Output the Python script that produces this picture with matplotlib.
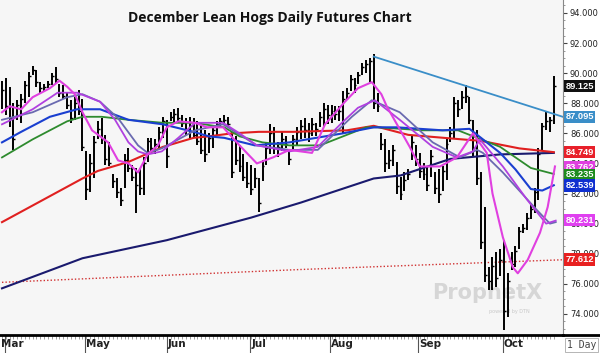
import matplotlib.pyplot as plt
import numpy as np
from matplotlib.lines import Line2D
from matplotlib.ticker import MultipleLocator

# daily OHLC (high / low / close), Dec lean hogs
highs = [89.5, 89.7, 89.1, 88.0, 88.2, 88.6, 89.5, 90.1, 90.5, 90.2,
         89.4, 89.3, 89.5, 90.0, 90.4, 89.3, 89.2, 88.7, 88.2, 88.4,
         88.9, 88.3, 84.8, 84.6, 85.8, 86.8, 87.0, 85.9, 85.4, 83.3,
         83.0, 82.4, 84.6, 85.0, 83.9, 83.7, 83.7, 84.4, 85.7, 85.7,
         85.6, 86.4, 87.1, 86.9, 87.4, 87.6, 87.7, 87.2, 87.0, 87.1,
         87.0, 86.8, 86.7, 86.2, 86.0, 86.4, 86.8, 87.0, 87.2, 87.1,
         86.1, 85.8, 85.2, 84.6, 84.1, 83.9, 83.7, 83.0, 84.2, 85.4,
         86.6, 86.4, 85.4, 86.1, 85.8, 84.8, 85.9, 86.4, 86.9, 87.0,
         86.7, 87.0, 86.7, 87.4, 88.0, 87.9, 87.9, 87.8, 87.8, 88.8,
         89.0, 89.9, 89.7, 90.1, 90.7, 90.9, 91.0, 91.3, 88.7, 86.0,
         85.6, 84.9, 85.2, 84.1, 83.1, 83.4, 83.6, 85.8, 85.2, 84.7,
         84.0, 83.8, 84.9, 83.4, 83.6, 83.8, 85.6, 86.4, 88.4, 88.2,
         88.8, 89.2, 88.4, 86.9, 86.2, 83.4, 81.1, 77.1, 77.8, 78.1,
         78.3, 78.9, 76.7, 78.1, 78.5, 79.8, 80.0, 80.7, 81.4, 82.4,
         85.0, 86.7, 87.4, 87.1, 89.8]
lows = [87.6, 87.2, 86.4, 84.9, 86.9, 86.7, 88.0, 88.4, 89.9, 89.1,
        88.7, 88.8, 89.0, 89.2, 89.3, 88.4, 88.3, 87.6, 86.7, 86.9,
        87.2, 84.8, 81.6, 82.1, 83.0, 85.6, 85.3, 83.9, 83.8, 82.4,
        81.7, 81.2, 82.4, 83.4, 82.8, 80.7, 81.9, 81.9, 84.1, 84.8,
        84.6, 85.0, 85.7, 83.7, 86.8, 86.7, 86.8, 86.4, 85.9, 85.6,
        85.7, 85.2, 84.6, 84.1, 84.7, 85.0, 85.9, 86.4, 86.6, 86.4,
        83.0, 83.9, 83.4, 82.8, 82.4, 81.9, 82.4, 80.8, 82.8, 83.9,
        84.6, 84.6, 84.4, 84.8, 85.0, 83.9, 84.8, 85.2, 85.6, 85.7,
        85.4, 85.8, 85.8, 86.4, 86.4, 86.6, 86.7, 86.9, 86.8, 86.0,
        88.2, 88.8, 88.7, 89.3, 89.9, 90.0, 89.4, 87.6, 87.4, 84.9,
        83.4, 83.6, 83.8, 82.0, 81.6, 82.2, 82.9, 84.2, 83.8, 83.0,
        82.9, 82.2, 83.1, 82.0, 81.4, 82.2, 82.9, 85.4, 85.6, 87.1,
        87.6, 88.0, 86.6, 84.5, 82.6, 78.3, 76.1, 75.6, 75.6, 75.8,
        76.5, 72.9, 73.8, 76.9, 77.1, 78.3, 79.4, 79.6, 80.3, 80.7,
        81.6, 84.9, 86.2, 86.1, 86.6]
closes = [88.9, 87.8, 87.0, 85.6, 87.9, 88.3, 89.2, 89.8, 90.2, 89.4,
          89.0, 89.1, 89.3, 89.8, 89.6, 88.7, 88.5, 87.9, 87.0, 88.0,
          87.5, 85.1, 82.3, 84.0, 85.4, 86.3, 85.6, 84.3, 84.0, 82.8,
          82.1, 81.6, 84.2, 83.7, 83.1, 82.6, 82.4, 84.0, 85.5, 85.0,
          85.3, 86.1, 86.8, 84.5, 87.1, 87.3, 87.0, 86.7, 86.2, 86.5,
          85.9, 85.5, 84.9, 84.6, 85.7, 86.2, 86.6, 86.8, 86.9, 86.6,
          83.4, 84.2, 83.8, 83.1, 82.7, 82.3, 83.0, 81.4, 83.8, 85.0,
          86.0, 85.0, 85.1, 85.6, 85.3, 84.3, 85.6, 86.1, 86.5, 86.2,
          86.0, 86.6, 86.3, 87.1, 87.6, 87.2, 87.5, 87.3, 87.5, 88.3,
          88.7, 89.6, 89.2, 89.9, 90.4, 90.6, 90.8, 88.0, 87.8, 85.3,
          84.0, 84.2, 84.9, 82.5, 82.0, 82.9, 83.3, 85.4, 84.3, 83.5,
          83.3, 82.6, 84.5, 82.4, 82.0, 83.5, 85.3, 86.0, 88.0, 87.6,
          88.4, 88.5, 86.9, 85.0, 83.0, 78.8, 76.6, 76.2, 77.2, 76.4,
          77.6, 74.2, 76.2, 77.3, 78.2, 79.5, 79.7, 80.4, 81.0, 82.1,
          84.6, 86.5, 86.8, 86.9, 89.125]

# moving averages (bar index, value)
red_x = [0, 21, 25, 33, 42, 50, 54, 60, 67, 76, 90, 97, 106, 120, 125, 135, 144]
red_y = [80.1, 83.0, 83.5, 84.1, 85.1, 85.7, 85.8, 86.0, 86.1, 86.1, 86.2, 86.5,
         85.9, 85.6, 85.5, 85.0, 84.75]
navy_x = [0, 21, 43, 65, 78, 97, 104, 117, 130, 144]
navy_y = [75.7, 77.7, 78.9, 80.4, 81.4, 83.0, 83.2, 84.3, 84.6, 84.7]
green_x = [0, 8, 17, 21, 26, 33, 42, 50, 58, 62, 68, 75, 83, 87, 95, 98, 110,
           119, 130, 138, 144]
green_y = [84.4, 85.6, 86.8, 87.1, 87.1, 86.9, 86.7, 86.7, 86.4, 85.8, 85.4,
           85.2, 85.2, 85.6, 86.4, 86.4, 86.2, 86.2, 85.1, 83.7, 83.3]
blue_x = [0, 5, 12.5, 19.6, 25.6, 33, 42, 50, 54, 58, 66, 75, 82, 89, 97, 103,
          115, 122, 130, 134, 138, 141, 144]
blue_y = [85.4, 86.1, 87.1, 87.6, 87.6, 86.9, 86.6, 86.1, 85.8, 85.7, 85.2,
          85.4, 85.7, 86.0, 86.4, 86.4, 86.2, 86.3, 84.7, 83.6, 82.3, 82.2, 82.55]
purple_x = [0, 8, 14.5, 19.6, 25.6, 29.5, 33, 35.5, 38, 41.7, 46, 50.4, 57.7,
            62, 66.5, 75, 82.4, 88.7, 92.9, 97.3, 103.8, 112.4, 118.7, 122.9,
            124.7, 130.7, 137, 142, 144.5]
purple_y = [86.6, 87.6, 88.7, 88.7, 88.1, 86.9, 85.4, 84.8, 84.6, 84.8, 85.7,
            86.7, 86.7, 86.0, 85.2, 84.8, 85.1, 86.7, 87.7, 88.2, 86.9, 85.1,
            84.4, 84.8, 85.6, 83.8, 81.6, 80.0, 80.2]
slate_x = [0, 8, 17, 21, 25.6, 30.3, 35.5, 38, 41.7, 50.4, 57.7, 66.5, 75,
           82.4, 91.3, 96.5, 103.8, 112.4, 119.5, 124, 125.5, 130.7, 139.6,
           143, 144.5]
slate_y = [86.9, 87.4, 88.4, 88.6, 88.1, 87.0, 85.2, 84.7, 85.0, 86.2, 86.6,
           85.2, 84.9, 84.9, 87.1, 88.2, 87.4, 85.4, 84.4, 84.9, 84.7, 83.4,
           80.9, 80.0, 80.1]
mag_x = [0, 2, 5, 8, 12.5, 15, 17, 19, 21, 23.5, 27.7, 30.3, 33, 35.5, 38,
         40.7, 43, 46, 50.4, 53.5, 57.7, 62, 66.5, 70.7, 75, 80.9, 84.3, 89.5,
         92.9, 96.5, 99, 100.4, 106.4, 109, 114.3, 118.7, 122.9, 126.5, 128,
         130.7, 133.3, 134.6, 137.2, 140.4, 142.4, 144.3]
mag_y = [87.4, 87.8, 87.6, 88.4, 89.0, 89.5, 89.1, 88.6, 87.4, 86.2, 85.4,
         84.2, 84.0, 83.4, 84.6, 85.2, 86.4, 86.8, 86.7, 86.4, 86.4, 85.2,
         84.0, 84.4, 84.9, 84.7, 86.6, 88.1, 89.0, 89.4, 88.6, 87.8, 85.1,
         83.8, 83.8, 84.4, 86.0, 84.7, 82.0, 79.1, 77.1, 76.7, 77.6, 79.4,
         81.1, 83.8]
dotted_x = [0, 77.7, 146.4]
dotted_y = [76.1, 76.95, 77.6]
trend_x = [97, 146.4]
trend_y = [91.1, 87.095]

month_labels = ['Mar', 'May', 'Jun', 'Jul', 'Aug', 'Sep', 'Oct']
month_idx = [0.8, 21.7, 43.0, 64.7, 85.6, 108.5, 130.7]

# right-hand value flags
flag_vals = [89.125, 87.095, 84.749, 83.762, 83.235, 82.539, 80.231, 77.612]
flag_cols = ['#111111', '#3a8ec8', '#e8202a', '#e040e0', '#1e8c1e',
             '#1030d0', '#e040f0', '#e82020']

fig = plt.figure(figsize=(6, 3.53), dpi=100)
ax = fig.add_axes([0, 18 / 353, 563 / 600, 335 / 353])
ax.set_facecolor('#f6f6f6')

x = np.arange(len(highs))
ax.vlines(x, lows, highs, color='black', lw=1.4, zorder=3)
ax.hlines(closes, x, x + 0.5, color='black', lw=1.0, zorder=3)

ax.plot(dotted_x, dotted_y, color='#d03030', lw=1.0, ls=(0, (1, 1.5)), zorder=2)
ax.plot(navy_x, navy_y, color='#1a1a6e', lw=1.5, zorder=4)
ax.plot(red_x, red_y, color='#e02020', lw=1.5, zorder=4)
ax.plot(green_x, green_y, color='#2e8b2e', lw=1.3, zorder=4)
ax.plot(blue_x, blue_y, color='#1a3fd0', lw=1.5, zorder=4)
ax.plot(slate_x, slate_y, color='#6a6ab0', lw=1.3, zorder=4)
ax.plot(purple_x, purple_y, color='#b040e0', lw=1.3, zorder=4)
ax.plot(mag_x, mag_y, color='#e040e0', lw=1.5, zorder=4)
ax.plot(trend_x, trend_y, color='#3a8ec8', lw=1.3, zorder=5)

ax.set_xlim(-0.52, 146.4)

# price axis on the right
ax.yaxis.tick_right()
ticks = np.arange(74, 96, 2)
ax.set_yticks(ticks, labels=[f'{v:.3f}' for v in ticks])
ax.yaxis.set_minor_locator(MultipleLocator(0.5))
ax.set_ylim(72.6, 94.86)
ax.tick_params(axis='y', which='major', length=3, pad=2, labelsize=6.0,
               colors='#444444', labelcolor='#222222')
ax.tick_params(axis='y', which='minor', length=1.5, colors='#888888')

# date axis
ax.set_xticks(month_idx, labels=[])
ax.set_xticks(x, minor=True)
ax.tick_params(axis='x', which='major', length=13, width=0.8, color='#555555')
ax.tick_params(axis='x', which='minor', length=3, width=0.5, color='#777777')
for i, (lab, xi) in enumerate(zip(month_labels, month_idx)):
    lx = -0.3 if i == 0 else xi + 0.3
    ax.text(lx, -0.012, lab, transform=ax.get_xaxis_transform(),
            ha='left', va='top', fontsize=7.5, fontweight='bold', color='#222222')

for s in ['top', 'left']:
    ax.spines[s].set_visible(False)
ax.spines['right'].set_color('#888888')
ax.spines['right'].set_linewidth(0.8)
ax.spines['bottom'].set_linewidth(2)
ax.spines['bottom'].set_color('black')
fig.add_artist(Line2D([563 / 600, 1], [18 / 353, 18 / 353], color='black', lw=2))

for v, c in zip(flag_vals, flag_cols):
    ax.text(1.004, v, f'{v:.3f}', transform=ax.get_yaxis_transform(),
            ha='left', va='center', fontsize=6.7, fontweight='bold', color='white',
            family='Liberation Sans',
            bbox=dict(boxstyle='square,pad=0.18', fc=c, ec='none'), zorder=6,
            clip_on=False)

ax.text(0.48, 0.946, 'December Lean Hogs Daily Futures Chart',
        transform=ax.transAxes, ha='center', va='center', fontsize=10,
        fontweight='bold', family='Open Sans', color='#111111')

# watermark
ax.text(0.865, 0.125, 'ProphetX', transform=ax.transAxes, ha='center',
        va='center', fontsize=15, fontweight='bold', color='#d6d6d6', zorder=1)
ax.text(0.905, 0.07, 'powered by DTN', transform=ax.transAxes, ha='center',
        va='center', fontsize=3.5, color='#c8c8c8', zorder=1)

fig.text(0.945, 0.022, '1 Day', ha='left', va='center', fontsize=7,
         family='DejaVu Sans Mono', color='#444444',
         bbox=dict(boxstyle='square,pad=0.2', fc='white', ec='#aaaaaa', lw=0.6))

fig.savefig('out.png', dpi=100)
